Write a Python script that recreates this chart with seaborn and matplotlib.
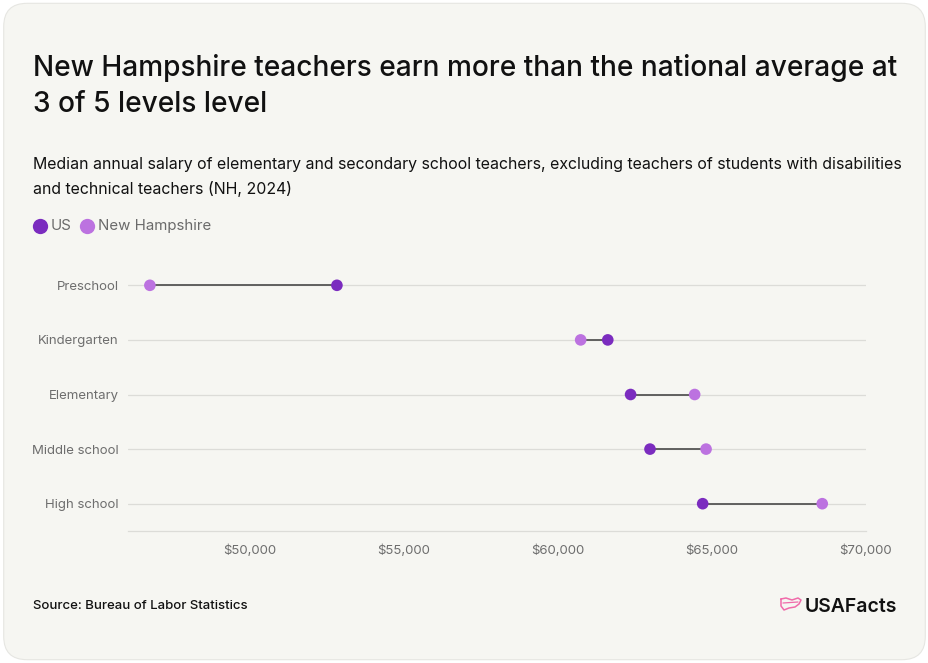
import matplotlib
matplotlib.use("Agg")
import matplotlib.pyplot as plt
from matplotlib.patches import FancyBboxPatch
from matplotlib.lines import Line2D
import seaborn as sns
import pandas as pd

# ---- data ----
levels = ["Preschool", "Kindergarten", "Elementary", "Middle school", "High school"]
us_salary = [52830, 61620, 62360, 62990, 64700]
nh_salary = [46760, 60740, 64440, 64810, 68580]
x_ticks = [50000, 55000, 60000, 65000, 70000]
x_tick_labels = ["$50,000", "$55,000", "$60,000", "$65,000", "$70,000"]
series_names = ["US", "New Hampshire"]

US_COLOR = "#7B2CBF"
NH_COLOR = "#BC72E0"
BG = "#F6F6F2"
GRID = "#DCDCD8"

sns.set_theme(style="white")
plt.rcParams["font.family"] = ["Inter", "DejaVu Sans"]

W, H = 929, 663
fig = plt.figure(figsize=(W / 100, H / 100), dpi=100, facecolor="white")
card = FancyBboxPatch((0.004, 0.005), 0.992, 0.99,
                      boxstyle="round,pad=0,rounding_size=0.025",
                      transform=fig.transFigure, facecolor=BG,
                      edgecolor="#E6E6E2", linewidth=0.8, zorder=-5,
                      mutation_aspect=W / H)
fig.patches.append(card)

ax = fig.add_axes([128 / W, 1 - 531 / H, (866 - 128) / W, (531 - 258) / H])
ax.patch.set_alpha(0)
ax.set_zorder(2)

df = pd.DataFrame({"level": levels * 2,
                   "salary": us_salary + nh_salary,
                   "group": [series_names[0]] * len(levels) + [series_names[1]] * len(levels)})
df["ypos"] = list(range(len(levels))) * 2

# connecting lines
ax.hlines(y=range(len(levels)), xmin=[min(a, b) for a, b in zip(us_salary, nh_salary)],
          xmax=[max(a, b) for a, b in zip(us_salary, nh_salary)],
          color="#555555", linewidth=1.3, zorder=2)

sns.scatterplot(data=df, x="salary", y="ypos", hue="group",
                palette={"US": US_COLOR, "New Hampshire": NH_COLOR},
                s=70, edgecolor="none", linewidth=0, zorder=3, legend=False, ax=ax)

ax.set_ylim(len(levels) - 0.5, -0.5)
ax.set_xlim(46050, 70000)
ax.set_yticks(range(len(levels)))
ax.set_yticklabels(levels)
ax.set_xticks(x_ticks)
ax.set_xticklabels(x_tick_labels)
ax.set_xlabel("")
ax.set_ylabel("")
for y in range(len(levels)):
    ax.axhline(y, color=GRID, linewidth=0.9, zorder=1)
for s in ["top", "left", "right"]:
    ax.spines[s].set_visible(False)
ax.spines["bottom"].set_color(GRID)
ax.spines["bottom"].set_linewidth(0.9)
ax.tick_params(axis="both", length=0, labelsize=9.5, labelcolor="#6E6E6E")
ax.tick_params(axis="y", pad=6.5)
ax.tick_params(axis="x", pad=10)

# ---- texts ----
fig.text(33 / W, 1 - 76 / H, "New Hampshire teachers earn more than the national average at",
         fontsize=20.2, fontweight="medium", color="#111111", va="baseline")
fig.text(33 / W, 1 - 112 / H, "3 of 5 levels level",
         fontsize=20.2, fontweight="medium", color="#111111", va="baseline")
fig.text(33 / W, 1 - 169 / H,
         "Median annual salary of elementary and secondary school teachers, excluding teachers of students with disabilities",
         fontsize=11.45, color="#111111", va="baseline")
fig.text(33 / W, 1 - 194 / H, "and technical teachers (NH, 2024)",
         fontsize=11.45, color="#111111", va="baseline")

# legend (manual)
for cx, tx, col, name in [(40, 51, US_COLOR, series_names[0]), (87, 98, NH_COLOR, series_names[1])]:
    fig.lines.append(Line2D([cx / W], [1 - 226 / H], transform=fig.transFigure,
                            marker="o", markersize=11, markerfacecolor=col,
                            markeredgecolor="none", linestyle="none"))
    fig.text(tx / W, 1 - 226 / H, name, fontsize=10.8, color="#6A6A6A", va="center")

fig.text(33 / W, 1 - 609 / H, "Source: Bureau of Labor Statistics",
         fontsize=9.5, fontweight="medium", color="#111111", va="baseline")

# logo
fig.text(897 / W, 1 - 612 / H, "USAFacts", fontsize=14, fontweight="semibold",
         color="#111111", ha="right", va="baseline")
lx = [781, 786, 792, 798, 801, 799, 795, 789, 784, 781, 781]
ly = [599, 598, 600, 598, 600, 604, 607, 608, 610, 606, 599]
fig.lines.append(Line2D([v / W for v in lx], [1 - v / H for v in ly],
                        transform=fig.transFigure, color="#F06BAA", linewidth=1.1))
fig.lines.append(Line2D([783 / W, 798 / W], [1 - 603 / H, 1 - 602 / H],
                        transform=fig.transFigure, color="#F06BAA", linewidth=0.9))

fig.savefig("out.png", dpi=100, facecolor="white")
